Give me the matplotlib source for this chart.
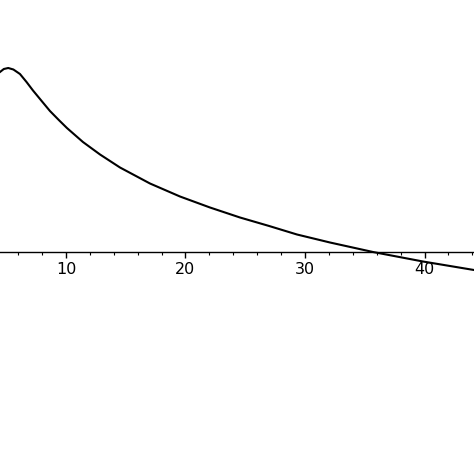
import numpy as np
import matplotlib
matplotlib.use("Agg")
import matplotlib.pyplot as plt
from matplotlib.ticker import MultipleLocator

#Curve values
x_vals = [4.48, 4.8, 5.17, 5.6, 6.15, 6.7, 7.24, 8.0, 8.66, 9.4, 10.08, 11.42,
          12.85, 14.52, 17.03, 19.54, 22.05, 24.56, 27.0, 29.33, 32.09, 35.69,
          39.87, 44.14]
y_vals = [1.80, 1.83, 1.84, 1.825, 1.78, 1.70, 1.615, 1.505, 1.41, 1.32, 1.24, 1.10,
          0.975, 0.845, 0.685, 0.555, 0.445, 0.345, 0.26, 0.175, 0.095, 0.0,
          -0.095, -0.18]

#Axis ranges
x_range = (4.48, 44.14)
y_range = (-2.22, 2.52)
major_step = 10
minor_step = 2

fig = plt.figure(figsize=(4.74, 4.74), dpi=100)
ax = fig.add_axes([0, 0, 1, 1])

ax.plot(x_vals, y_vals, color="black", linewidth=1.5)

ax.set_xlim(*x_range)
ax.set_ylim(*y_range)

#Only the x axis through zero
for side in ["left", "right", "top"]:
    ax.spines[side].set_visible(False)
ax.spines["bottom"].set_position(("data", 0))
ax.spines["bottom"].set_linewidth(1.0)

ax.xaxis.set_major_locator(MultipleLocator(major_step))
ax.xaxis.set_minor_locator(MultipleLocator(minor_step))
ax.tick_params(axis="x", which="major", direction="out", length=4.3, width=1.0,
               labelsize=11.5, pad=3)
ax.tick_params(axis="x", which="minor", direction="out", length=2.5, width=0.8)
ax.set_yticks([])

fig.savefig("out.png", dpi=100)
